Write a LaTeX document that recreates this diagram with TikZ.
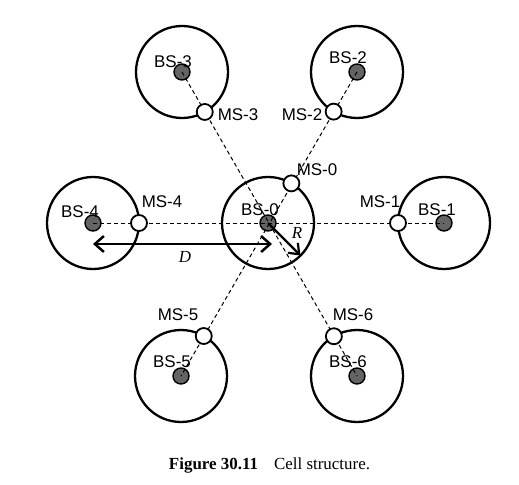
\documentclass[tikz,border=0pt]{standalone}
\usepackage{fontspec}
\setmainfont{Liberation Serif}
\setsansfont{Liberation Sans}
\usetikzlibrary{arrows.meta,calc}
\definecolor{bsgray}{RGB}{100,100,100}
\begin{document}
\begin{tikzpicture}[x=1bp,y=-1bp,
  cell/.style={draw,circle,line width=2.3bp,minimum size=92bp,inner sep=0pt},
  bsdot/.style={draw,circle,fill=bsgray,line width=1.4bp,minimum size=16bp,inner sep=0pt},
  msdot/.style={draw,circle,fill=white,line width=1.8bp,minimum size=16bp,inner sep=0pt},
  lab/.style={font=\sffamily\fontsize{17}{19}\selectfont,inner sep=0pt},
  dline/.style={dash pattern=on 4bp off 3bp,line width=1bp},
  barrow/.style={line width=2.5bp,{Straight Barb[length=9bp,width=16bp]}-{Straight Barb[length=9bp,width=16bp]}},
  rarrow/.style={line width=2.2bp,-{Straight Barb[length=9bp,width=14bp]}}]
\useasboundingbox (0,0) rectangle (519,485);
% base station positions
\coordinate (p0) at (268,223);
\coordinate (p1) at (444,223);
\coordinate (p2) at (357,72);
\coordinate (p3) at (182,72);
\coordinate (p4) at (93,223);
\coordinate (p5) at (181,376);
\coordinate (p6) at (357,376);
% cells
\foreach \i in {0,...,6} {\node[cell] (c\i) at (p\i) {};}
% base stations
\foreach \i in {0,...,6} {\node[bsdot] (b\i) at (p\i) {};}
% dashed lines
\draw[dline] (p4) -- (p1);
\draw[dline] (p3) -- (p6);
\draw[dline] (p2) -- (p5);
% mobile stations
\node[msdot] (m0) at ($(p0)!46bp!(p2)$) {};
\node[msdot] (m1) at ($(p1)!46bp!(p0)$) {};
\node[msdot] (m2) at ($(p2)!46bp!(p0)$) {};
\node[msdot] (m3) at ($(p3)!46bp!(p0)$) {};
\node[msdot] (m4) at ($(p4)!46bp!(p0)$) {};
\node[msdot] (m5) at ($(p5)!46bp!(p0)$) {};
\node[msdot] (m6) at ($(p6)!46bp!(p0)$) {};
% arrows
\coordinate (dl) at (93,244);
\coordinate (dr) at (272,244);
\draw[barrow] (dl) -- (dr);
\coordinate (rend) at (300.5,255.5);
\draw[rarrow] (p0) -- (rend);
\node[font=\itshape\fontsize{17}{19}\selectfont,inner sep=0pt] (dlab) at (185,257) {D};
\node[font=\itshape\fontsize{17}{19}\selectfont,inner sep=0pt] (rlab) at (297,233) {R};
% labels
\node[lab] (l0) at (260,210) {BS-0};
\node[lab] (l1) at (437,210) {BS-1};
\node[lab] (l2) at (348,58) {BS-2};
\node[lab] (l3) at (173,62) {BS-3};
\node[lab] (l4) at (80,212) {BS-4};
\node[lab] (l5) at (172,362) {BS-5};
\node[lab] (l6) at (348,362) {BS-6};
\node[lab] (k0) at (317,170) {MS-0};
\node[lab] (k1) at (380,202) {MS-1};
\node[lab] (k2) at (302,115) {MS-2};
\node[lab] (k3) at (238,115) {MS-3};
\node[lab] (k4) at (162,202) {MS-4};
\node[lab] (k5) at (178,315) {MS-5};
\node[lab] (k6) at (353,315) {MS-6};
% caption
\node[font=\fontsize{17}{19}\selectfont,inner sep=0pt] (cap) at (269.5,465) {\textbf{Figure 30.11}\hspace{16bp}Cell structure.};
\end{tikzpicture}
\end{document}
